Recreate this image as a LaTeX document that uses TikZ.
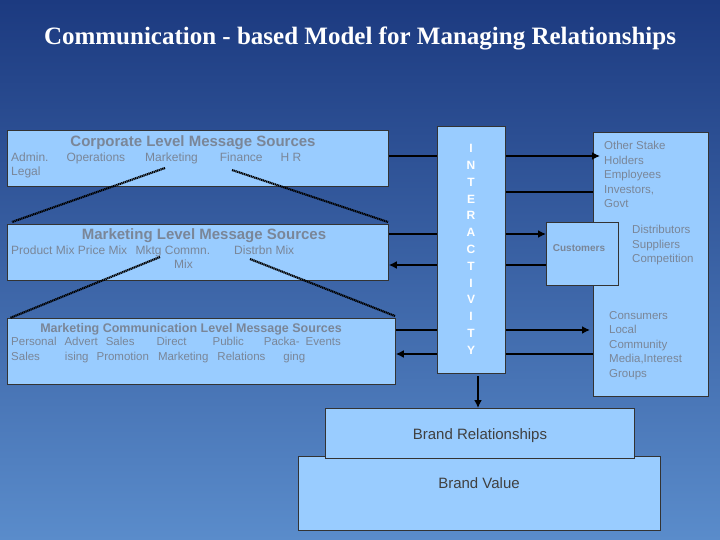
\documentclass[tikz,border=0pt]{standalone}
\usepackage{fontspec}
\setmainfont{Liberation Sans}
\newfontfamily\ttlfont{Liberation Serif}
\begin{document}
\begin{tikzpicture}[x=1pt,y=-1pt,
  box/.style={draw=black!80,line width=0.8pt,fill=boxc},
  txt/.style={text=txtc,font=\fontsize{12}{14}\selectfont,inner sep=0pt,anchor=north west,align=left},
  hdr/.style={text=txtc,font=\fontsize{15}{17}\selectfont\bfseries,inner sep=0pt},
  con/.style={line width=2.2pt,black},
  arr/.style={con,-{Latex[length=8pt,width=8pt]}},
  dot/.style={line width=2.2pt,black,dash pattern=on 1.2pt off 0.6pt}]
\usetikzlibrary{arrows.meta}
\definecolor{boxc}{HTML}{99CCFF}
\definecolor{txtc}{HTML}{7A8698}
\definecolor{bgtop}{HTML}{1C3A80}
\definecolor{bgbot}{HTML}{5A8CCB}
\useasboundingbox (0,0) rectangle (720,540);
\shade[top color=bgtop,bottom color=bgbot] (0,0) rectangle (720,540);
\node[text=white,font=\ttlfont\fontsize{25}{28}\selectfont\bfseries] (title) at (360,38) {Communication - based Model for Managing Relationships};
% left boxes
\node[box,minimum width=381,minimum height=56,anchor=north west] (corp) at (7,130) {};
\node[box,minimum width=381,minimum height=56,anchor=north west] (mkt) at (7,224) {};
\node[box,minimum width=388,minimum height=66,anchor=north west] (mc) at (7,318) {};
\node[hdr] (corph) at (193,143) {Corporate Level Message Sources};
\node[txt] (corpt) at (11,153) {Admin.\hspace{18pt}Operations\hspace{20pt}Marketing\hspace{22pt}Finance\hspace{18pt}H R\\Legal};
\node[hdr] (mkth) at (204,236) {Marketing Level Message Sources};
\node[txt] (mktt) at (11,246) {Product Mix Price Mix\hspace{5pt} Mktg Commn.\hspace{24pt}Distrbn Mix\\\hspace{163pt}Mix};
\node[hdr,font=\fontsize{12.5}{14}\selectfont\bfseries] (mch) at (191,329) {Marketing Communication Level Message Sources};
\node[txt,font=\fontsize{11.5}{15}\selectfont] (mct) at (11,337) {Personal\hspace{8pt}Advert\hspace{8pt}Sales\hspace{22pt}Direct\hspace{26pt}Public\hspace{20pt}Packa-\hspace{6pt}Events\\Sales\hspace{25pt}ising\hspace{8pt}Promotion\hspace{9pt}Marketing\hspace{9pt}Relations\hspace{18pt}ging};
% interactivity
\node[box,minimum width=68,minimum height=247,anchor=north west] (inter) at (437,126) {};
\node[text=white,font=\fontsize{12}{16.8}\selectfont\bfseries,align=center,anchor=north] (intert) at (471,141) {I\\N\\T\\E\\R\\A\\C\\T\\I\\V\\I\\T\\Y};
% right
\node[box,minimum width=115,minimum height=264,anchor=north west] (stake) at (593,132) {};
\node[box,minimum width=72,minimum height=63,anchor=north west] (cust) at (546,222) {};
\node[text=txtc,font=\fontsize{10}{12}\selectfont\bfseries] (custt) at (579,248) {Customers};
\node[txt,font=\fontsize{11.5}{14.5}\selectfont] (st1) at (604,141) {Other Stake\\Holders\\Employees\\Investors,\\Govt};
\node[txt,font=\fontsize{11.5}{14.5}\selectfont] (st2) at (632,225) {Distributors\\Suppliers\\Competition};
\node[txt,font=\fontsize{11.5}{14.5}\selectfont] (st3) at (609,311) {Consumers\\Local\\Community\\Media,Interest\\Groups};
% brand
\node[box,minimum width=362,minimum height=74,anchor=north west] (bv) at (298,456) {};
\node[box,minimum width=309,minimum height=50,anchor=north west] (br) at (325,408) {};
\node[text=black!75,font=\fontsize{15}{17}\selectfont] (brt) at (480,436) {Brand Relationships};
\node[text=black!75,font=\fontsize{15}{17}\selectfont] (bvt) at (479,483) {Brand Value};
% connectors
\draw[con] (corp.east|-0,156) -- (inter.west|-0,156);
\draw[arr] (inter.east|-0,156) -- (600,156);
\draw[con] (inter.east|-0,192) -- (stake.west|-0,192);
\draw[con] (mkt.east|-0,234) -- (inter.west|-0,234);
\draw[arr] (inter.east|-0,234) -- (cust.west|-0,234);
\draw[arr] (inter.west|-0,265) -- (mkt.east|-0,265);
\draw[con] (inter.east|-0,265) -- (cust.west|-0,265);
\draw[con] (mc.east|-0,330) -- (inter.west|-0,330);
\draw[arr] (inter.east|-0,330) -- (590,330);
\draw[arr] (inter.west|-0,354) -- (mc.east|-0,354);
\draw[con] (inter.east|-0,354) -- (stake.west|-0,354);
\draw[arr] (478,376) -- (br.north-|478,0);
% dotted
\draw[dot] (165,168) -- (12,222);
\draw[dot] (232,170) -- (388,222);
\draw[dot] (160,257) -- (10,318);
\draw[dot] (250,259) -- (395,316);
\end{tikzpicture}
\end{document}
